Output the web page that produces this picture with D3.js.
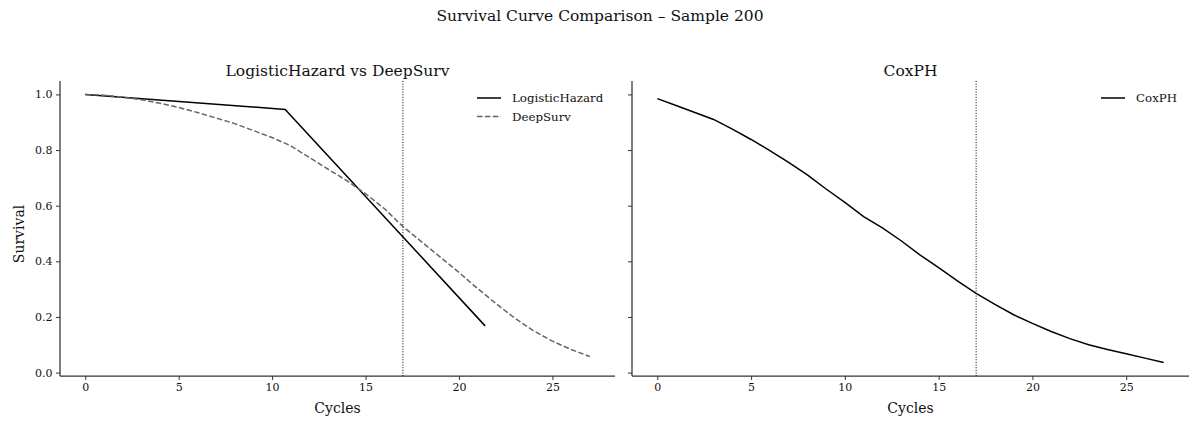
<!DOCTYPE html>
<html>
<head>
<meta charset="utf-8">
<script src="https://cdn.jsdelivr.net/npm/d3@7"></script>
<style>
  body { margin: 0; background: #fff; }
  svg text { font-family: "DejaVu Serif", serif; fill: #111; }
  .tick line { stroke: #333; }
</style>
</head>
<body>
<svg id="chart" width="1200" height="429"></svg>
<script>
// data
const cycles = d3.range(0, 28)
const lh_cycles = [0, 10.7, 21.4]
const lh_values = [1.0, 0.946, 0.168]
const deepsurv_values = [1.0, 0.997, 0.99, 0.981, 0.968, 0.953, 0.935, 0.915, 0.895, 0.87,
    0.845, 0.815, 0.773, 0.731, 0.69, 0.643, 0.59, 0.525, 0.47, 0.415,
    0.36, 0.302, 0.247, 0.195, 0.15, 0.113, 0.083, 0.058]
const coxph_values = [0.985, 0.96, 0.935, 0.91, 0.875, 0.838, 0.798, 0.756, 0.711, 0.66,
    0.612, 0.561, 0.52, 0.474, 0.423, 0.377, 0.33, 0.285, 0.245, 0.208,
    0.177, 0.148, 0.122, 0.1, 0.083, 0.068, 0.052, 0.036]
const event_cycle = 17
const x_ticks = [0, 5, 10, 15, 20, 25]
const y_ticks = [0.0, 0.2, 0.4, 0.6, 0.8, 1.0]

const svg = d3.select("#chart")
const top_y = 81
const bottom_y = 376

// matplotlib style 5% margins
function padded(lo, hi) {
    const p = (hi - lo) * 0.05
    return [lo - p, hi + p]
}
const all_x = lh_cycles.concat(cycles)
const all_y = lh_values.concat(deepsurv_values, coxph_values)
const xDomain = padded(d3.min(all_x), d3.max(all_x))
const yDomain = padded(d3.min(all_y), d3.max(all_y))

const yScale = d3.scaleLinear().domain(yDomain).range([bottom_y, top_y])

svg.append("text")
    .attr("x", 600).attr("y", 21)
    .attr("text-anchor", "middle")
    .attr("font-size", 15.5)
    .text("Survival Curve Comparison \u2013 Sample 200")

function panel(left, right, title, series, show_ylabels) {
    const xScale = d3.scaleLinear().domain(xDomain).range([left, right])
    const g = svg.append("g")

    g.append("g")
        .attr("transform", "translate(0," + bottom_y + ")")
        .call(d3.axisBottom(xScale).tickValues(x_ticks).tickSize(4).tickPadding(3.5).tickFormat(d3.format("d")))
        .call(a => a.selectAll("text").attr("font-size", 11).attr("font-family", "DejaVu Serif").attr("fill", "#111"))
        .call(a => a.select(".domain").remove())

    g.append("g")
        .attr("transform", "translate(" + left + ",0)")
        .call(d3.axisLeft(yScale).tickValues(y_ticks).tickSize(4).tickPadding(3.5)
            .tickFormat(show_ylabels ? d3.format(".1f") : ""))
        .call(a => a.selectAll("text").attr("font-size", 11).attr("font-family", "DejaVu Serif").attr("fill", "#111"))
        .call(a => a.select(".domain").remove())

    // spines: left and bottom only
    g.append("line")
        .attr("x1", left).attr("x2", left)
        .attr("y1", top_y).attr("y2", bottom_y)
        .attr("stroke", "#333").attr("stroke-width", 1.25)
    g.append("line")
        .attr("x1", left).attr("x2", right)
        .attr("y1", bottom_y).attr("y2", bottom_y)
        .attr("stroke", "#333").attr("stroke-width", 1.25)

    g.append("text")
        .attr("x", (left + right) / 2).attr("y", 76)
        .attr("text-anchor", "middle")
        .attr("font-size", 15.5)
        .text(title)

    g.append("text")
        .attr("x", (left + right) / 2).attr("y", 413)
        .attr("text-anchor", "middle")
        .attr("font-size", 14)
        .text("Cycles")

    g.append("line")
        .attr("x1", xScale(event_cycle)).attr("x2", xScale(event_cycle))
        .attr("y1", top_y).attr("y2", bottom_y)
        .attr("stroke", "#000")
        .attr("stroke-width", 1)
        .attr("stroke-dasharray", "1,1.65")

    const line = d3.line().x(d => xScale(d[0])).y(d => yScale(d[1]))

    series.forEach((s, i) => {
        g.append("path")
            .datum(d3.zip(s.x, s.y))
            .attr("d", line)
            .attr("fill", "none")
            .attr("stroke", s.color)
            .attr("stroke-width", 1.5)
            .attr("stroke-dasharray", s.dash)

        const ly = 98 + i * 18.5
        const lx = right - (s.legend_offset)
        g.append("line")
            .attr("x1", lx).attr("x2", lx + 24)
            .attr("y1", ly).attr("y2", ly)
            .attr("stroke", s.color)
            .attr("stroke-width", 1.5)
            .attr("stroke-dasharray", s.dash)
        g.append("text")
            .attr("x", lx + 35).attr("y", ly)
            .attr("dy", "0.35em")
            .attr("font-size", 11.8)
            .text(s.name)
    })
}

panel(60, 615, "LogisticHazard vs DeepSurv", [
    { name: "LogisticHazard", x: lh_cycles, y: lh_values, color: "#000", dash: null, legend_offset: 138 },
    { name: "DeepSurv", x: cycles, y: deepsurv_values, color: "#666", dash: "5.5,2.4", legend_offset: 138 }
], true)

panel(632, 1189, "CoxPH", [
    { name: "CoxPH", x: cycles, y: coxph_values, color: "#000", dash: null, legend_offset: 88 }
], false)

svg.append("text")
    .attr("transform", "translate(24,234) rotate(-90)")
    .attr("text-anchor", "middle")
    .attr("font-size", 14)
    .text("Survival")
</script>
</body>
</html>
